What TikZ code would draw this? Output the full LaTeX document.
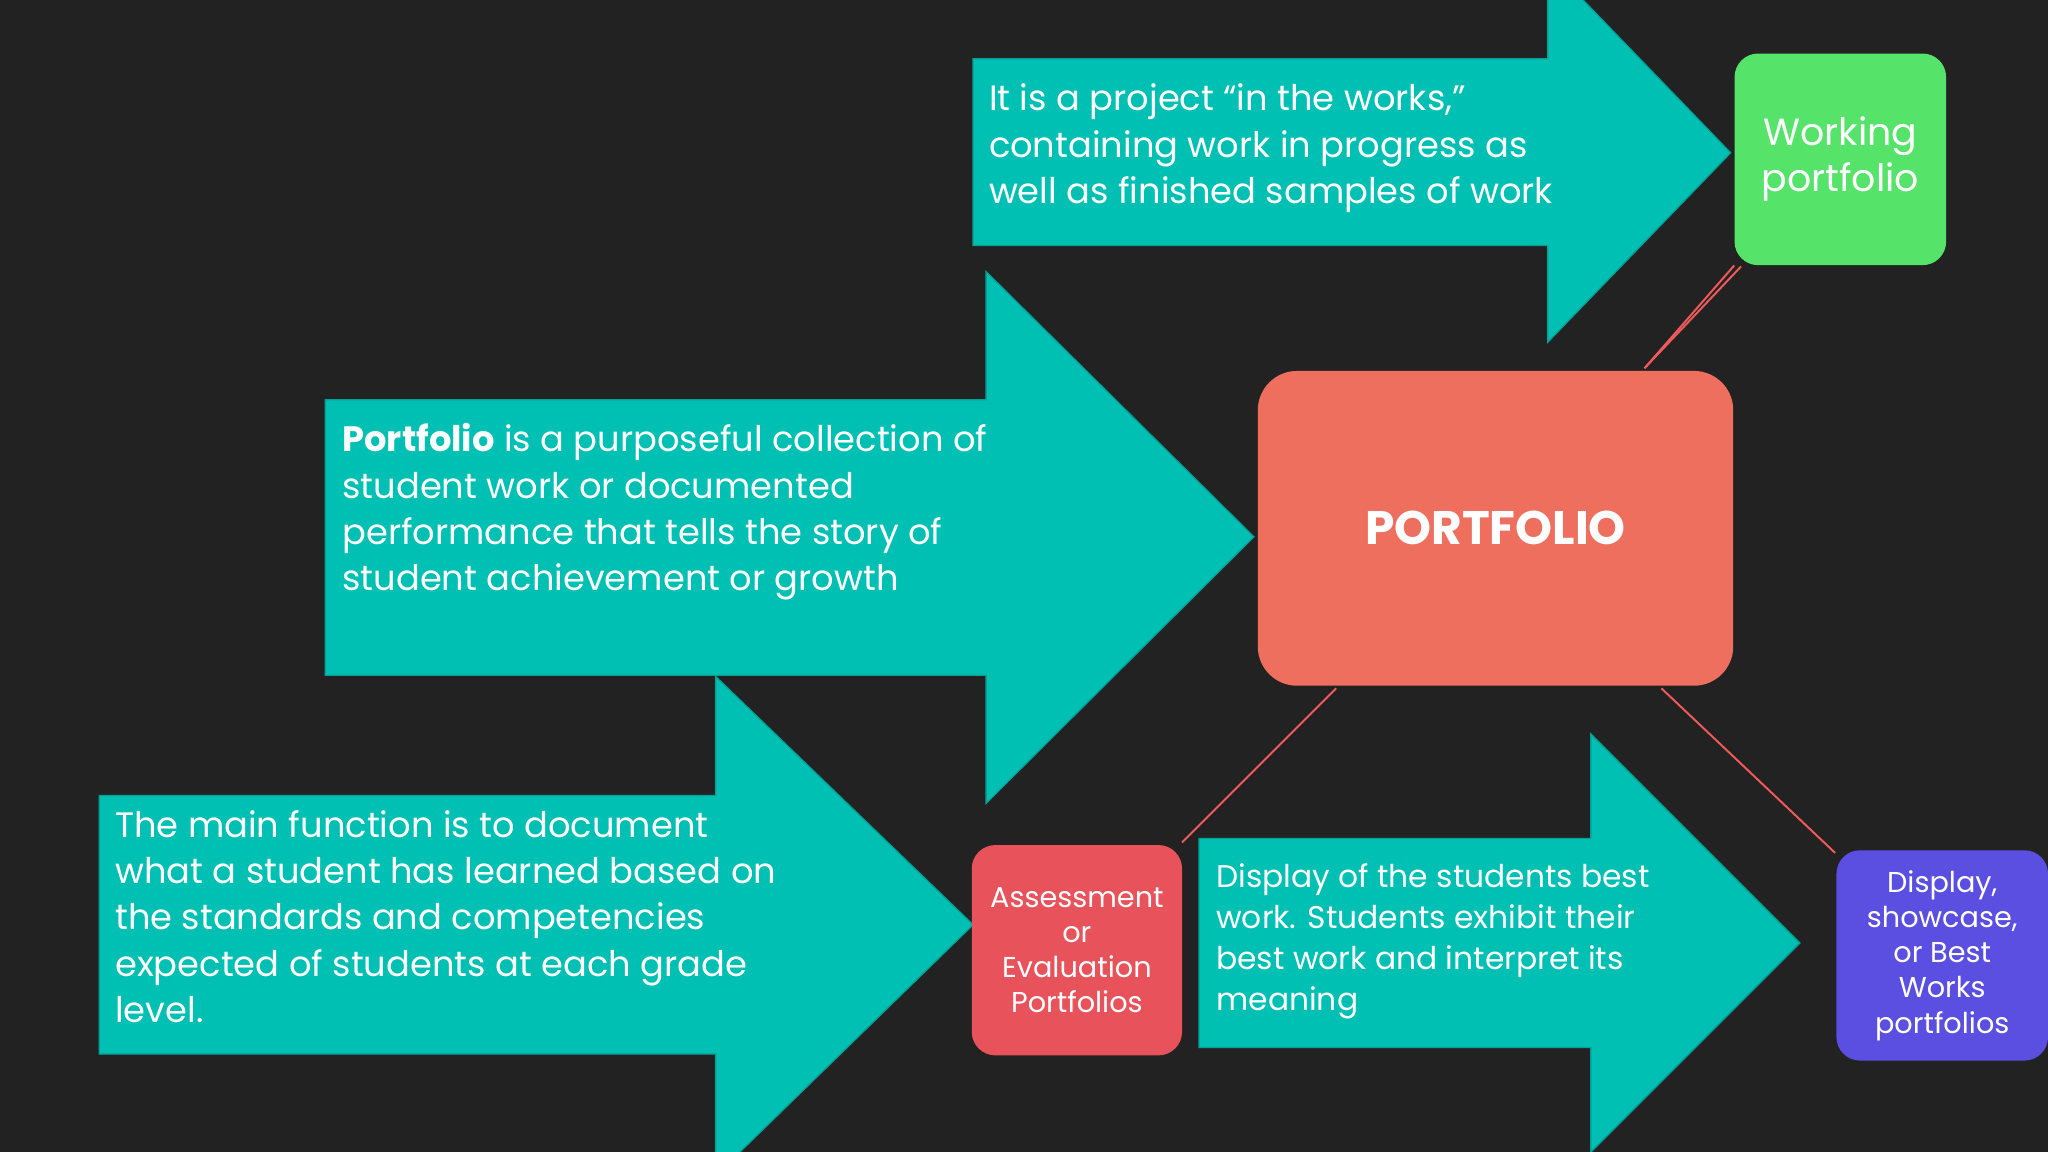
\documentclass[tikz,border=0pt]{standalone}
\usepackage{fontspec}
\setmainfont{Poppins}
\definecolor{bg}{HTML}{222222}
\definecolor{teal}{HTML}{00BFB3}
\definecolor{wgreen}{HTML}{55E36A}
\definecolor{salmon}{HTML}{EE6F5E}
\definecolor{rred}{HTML}{E8525A}
\definecolor{bblue}{HTML}{5A4FE0}
\definecolor{link}{HTML}{F05A5A}
\begin{document}
\begin{tikzpicture}[x=1pt,y=-1pt,
  arrowshape/.style={fill=teal,draw=teal!85!black,line width=1pt},
  txt/.style={text=white,align=left,anchor=north west,inner sep=0pt,font=\fontsize{27}{35.5}\selectfont},
  box/.style={rounded corners=18pt,text=white,align=center,draw=none},
  conn/.style={draw=link,line width=1.5pt}]
\useasboundingbox (0,0) rectangle (1568,882);
\fill[bg] (0,0) rectangle (1568,882);
\begin{scope}
\clip (0,0) rectangle (1568,882);
\draw[arrowshape] (745,45) -- (1185,45) -- (1185,-28) -- (1325,117) -- (1185,262) -- (1185,188) -- (745,188) -- cycle;
\draw[arrowshape] (249,306) -- (755,306) -- (755,208) -- (960,411) -- (755,615) -- (755,517) -- (249,517) -- cycle;
\draw[arrowshape] (76,609) -- (548,609) -- (548,518) -- (745,708) -- (548,900) -- (548,807) -- (76,807) -- cycle;
\draw[arrowshape] (918,642) -- (1218,642) -- (1218,562) -- (1378,722) -- (1218,882) -- (1218,802) -- (918,802) -- cycle;
\node[txt] (t1) at (757,64) {It is a project “in the works,”\\containing work in progress as\\well as finished samples of work};
\node[txt] (t2) at (262,324) {\textbf{Portfolio} is a purposeful collection of\\student work or documented\\performance that tells the story of\\student achievement or growth};
\node[txt] (t3) at (88,620) {The main function is to document\\what a student has learned based on\\the standards and competencies\\expected of students at each grade\\level.};
\node[txt,font=\fontsize{24}{31.5}\selectfont] (t4) at (931,661) {Display of the students best\\work. Students exhibit their\\best work and interpret its\\meaning};
\node[box,fill=wgreen,minimum width=162pt,minimum height=162pt,font=\fontsize{29}{35}\selectfont] (wp) at (1409,122) {Working\\portfolio};
\node[box,fill=salmon,rounded corners=30pt,minimum width=364pt,minimum height=241pt,font=\fontsize{36}{40}\selectfont\bfseries] (pf) at (1145,404.5) {PORTFOLIO};
\node[box,fill=rred,minimum width=161pt,minimum height=161pt,font=\fontsize{22}{27}\selectfont] (ae) at (824.5,727.5) {Assessment\\or\\Evaluation\\Portfolios};
\node[box,fill=bblue,minimum width=162pt,minimum height=161pt,font=\fontsize{22}{27}\selectfont] (dp) at (1487,731.5) {Display,\\showcase,\\or Best\\Works\\portfolios};
\end{scope}
\draw[conn] (pf.north east) ++(-68,-2) coordinate (a1) -- (wp.south west) ++(5,1);
\draw[conn] (1259,282) -- (1333,204);
\draw[conn] (1023,527) -- (905,645);
\draw[conn] (1272,527) -- (1405,653);
\end{tikzpicture}
\end{document}
